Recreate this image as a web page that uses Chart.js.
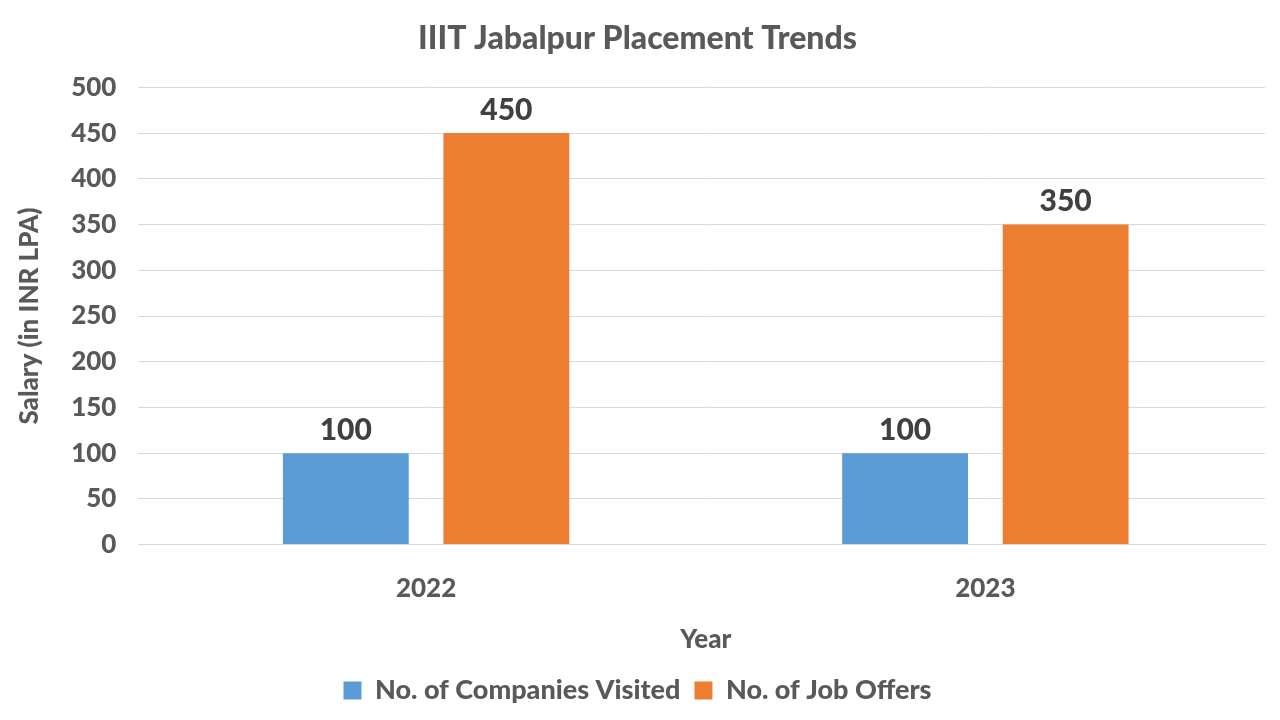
<!DOCTYPE html>
<html><head><meta charset="utf-8">
<script src="https://cdn.jsdelivr.net/npm/chart.js@4"></script>
<style>html,body{margin:0;padding:0;background:#fff}#w{width:1280px;height:720px}</style>
</head><body><div id="w"><canvas id="c" width="1280" height="720"></canvas></div>
<script>
const categories = ["2022", "2023"];
const companies = [100, 100];
const offers = [450, 350];
const yTicks = [0, 50, 100, 150, 200, 250, 300, 350, 400, 450, 500];
const F = "Lato, 'Open Sans', sans-serif";
const labelPlugin = {
  id: 'lbl',
  afterDatasetsDraw(chart) {
    const ctx = chart.ctx;
    ctx.save();
    ctx.font = "900 30px " + F;
    ctx.fillStyle = "#404040";
    ctx.textAlign = "center";
    ctx.textBaseline = "bottom";
    chart.data.datasets.forEach((ds, i) => {
      chart.getDatasetMeta(i).data.forEach((b, j) => {
        ctx.fillText(ds.data[j], b.x, b.y - 8);
      });
    });
    ctx.restore();
  }
};
new Chart(document.getElementById('c'), {
  type: 'bar',
  data: {
    labels: categories,
    datasets: [
      {label: "No. of Companies Visited", data: companies, backgroundColor: "#5B9BD5"},
      {label: "No. of Job Offers", data: offers, backgroundColor: "#ED7D31"}
    ]
  },
  options: {
    responsive: false, animation: false,
    layout: {padding: {left: 10, right: 15, top: 5, bottom: 6}},
    datasets: {bar: {categoryPercentage: 0.574, barPercentage: 0.784}},
    plugins: {
      title: {display: true, text: "IIIT Jabalpur Placement Trends", color: "#595959",
        font: {family: F, size: 32, weight: '900'}, padding: {top: 14, bottom: 30}},
      legend: {position: 'bottom', labels: {color: "#595959", boxWidth: 18, boxHeight: 18,
        padding: 14, font: {family: F, size: 27, weight: '900'}}},
      tooltip: {enabled: false}
    },
    scales: {
      x: {grid: {display: false}, border: {color: "#D9D9D9"},
        ticks: {color: "#595959", font: {family: F, size: 26, weight: '900'}, padding: 20},
        title: {display: true, text: "Year", color: "#595959", font: {family: F, size: 26, weight: '900'}, padding: {top: 0, bottom: 8}}},
      y: {min: 0, max: 500, afterBuildTicks: a => { a.ticks = yTicks.map(v => ({value: v})); },
        grid: {color: "#D9D9D9"}, border: {display: false},
        ticks: {color: "#595959", font: {family: F, size: 26, weight: '900'}, padding: 22},
        title: {display: true, text: "Salary (in INR LPA)", color: "#595959", font: {family: F, size: 26, weight: '900'}}}
    }
  },
  plugins: [labelPlugin]
});
</script></body></html>
